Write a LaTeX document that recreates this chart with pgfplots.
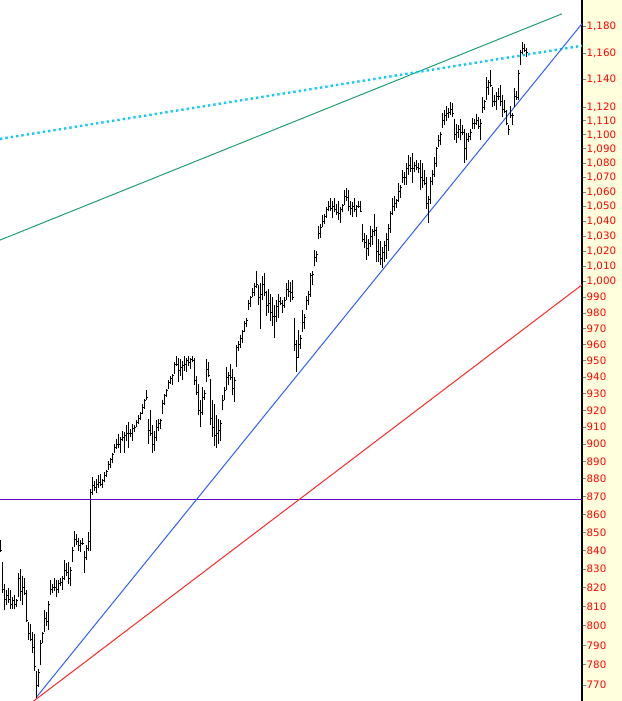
\documentclass[border=0pt]{standalone}
\usepackage{pgfplots}
\pgfplotsset{compat=1.18}
\usepackage{pgfplotstable}
\usepackage{fontspec}
\setmainfont{DejaVu Sans}
\definecolor{bgy}{RGB}{255,255,221}
\definecolor{hline}{RGB}{102,0,204}
\definecolor{bline}{RGB}{45,95,255}
\definecolor{rline}{RGB}{255,40,40}
\definecolor{gline}{RGB}{30,160,110}
\definecolor{cline}{RGB}{20,200,255}
\pgfdeclareplotmark{clt}{\pgfpathmoveto{\pgfpointorigin}\pgfpathlineto{\pgfpoint{1.5bp}{0pt}}\pgfusepathqstroke}
\pgfdeclareplotmark{opt}{\pgfpathmoveto{\pgfpointorigin}\pgfpathlineto{\pgfpoint{-1.5bp}{0pt}}\pgfusepathqstroke}
\pgfplotstableread{
x h l c
0 846 839 840
2 834 817 819
4 822 808 814
6 819 811 816
8 820 812 814
10 819 809 811
12 815 809 813
14 816 809 811
16 814 810 813
18 828 815 825
20 830 813 818
22 826 811 820
24 825 816 817
26 819 802 803
28 802 793 796
30 801 792 793
32 797 786 789
34 796 777 779
36 777 763.5 770
38 778 769 776
40 793 780 791
42 797 791 796
44 808 797 804
46 807 800 802
48 813 798 811
50 824 816 819
52 822 817 820
54 825 818 820
56 824 815 819
58 824 817 822
60 825 821 823
62 826 819 825
64 835 824 829
66 833 826 828
68 834 822 825
70 831 821 829
72 842 834 840
74 851 842 846
76 849 843 845
78 847 840 843
80 846 839 844
82 847 843 844
84 840 828 836
86 843 835 841
88 850 840 845
90 874 840 872
92 881 871 876
94 879 873 875
96 880 872 877
98 882 875 878
100 883 876 877
102 880 875 879
104 884 878 882
106 885 881 884
108 890 885 888
110 892 886 891
112 895 889 894
114 900 895 898
116 903 897 900
118 906 898 900
120 904 895 903
122 908 902 904
124 907 895 905
126 911 902 906
128 913 898 906
130 909 904 906
132 912 902 909
134 911 907 910
136 914 910 913
138 917 912 915
140 919 914 918
142 924 918 922
144 927 921 926
146 932 926 928
148 915 900 908
150 920 905 906
152 911 895 900
154 908 896 904
156 914 902 910
158 915 908 912
160 915 909 914
162 926 918 924
164 930 923 929
166 933 928 932
168 938 933 937
170 941 936 939
172 942 935 941
174 949 942 948
176 953 947 948
178 952 937 944
180 951 941 946
182 950 938 947
184 953 944 948
186 952 943 950
188 953 947 949
190 952 945 951
192 953 949 950
194 952 935 938
196 941 929 931
198 936 917 920
200 926 910 919
202 934 917 928
204 932 926 930
206 951 937 945
208 949 940 941
210 939 911 915
212 926 904 910
214 924 899 905
216 917 898 906
218 915 900 908
220 914 902 912
222 929 920 926
224 934 926 932
226 946 932 940
228 943 935 941
230 948 938 940
232 945 929 933
234 940 925 938
236 960 946 958
238 962 956 960
240 966 958 964
242 969 961 968
244 975 968 973
246 977 971 975
248 988 982 986
250 991 984 990
252 996 990 993
254 999 991 997
256 1007 996 998
258 998 985 990
260 999 970 992
262 1004 988 998
264 1006 991 993
266 994 978 985
268 995 980 986
270 992 975 980
272 990 972 978
274 985 964 978
276 988 974 984
278 992 977 987
280 990 985 986
282 988 980 985
284 990 983 988
286 999 988 995
288 1001 990 994
290 1000 987 993
292 1001 988 990
294 977 956 960
296 963 943 952
298 969 952 960
300 966 957 964
302 982 968 974
304 979 970 977
306 991 982 988
308 994 985 992
310 1006 990 1004
312 1007 998 1005
314 1021 1010 1016
316 1020 1013 1018
318 1037 1028 1032
320 1038 1029 1036
322 1044 1036 1040
324 1045 1038 1043
326 1050 1042 1048
328 1054 1047 1050
330 1056 1047 1049
332 1054 1042 1050
334 1056 1046 1048
336 1052 1044 1046
338 1054 1041 1045
340 1050 1039 1048
342 1052 1046 1051
344 1061 1051 1057
346 1063 1054 1056
348 1061 1047 1050
350 1054 1044 1049
352 1053 1043 1050
354 1056 1046 1048
356 1051 1043 1050
358 1054 1049 1050
360 1054 1046 1047
362 1038 1026 1028
364 1032 1022 1026
366 1031 1014 1022
368 1028 1017 1025
370 1037 1023 1030
372 1035 1024 1033
374 1045 1030 1034
376 1036 1013 1020
378 1028 1013 1018
380 1027 1011 1015
382 1023 1009 1019
384 1027 1013 1024
386 1032 1015 1028
388 1038 1020 1035
390 1047 1032 1045
392 1056 1044 1050
394 1057 1047 1052
396 1055 1049 1054
398 1066 1053 1060
400 1065 1056 1063
402 1075 1066 1070
404 1074 1065 1070
406 1080 1065 1076
408 1086 1072 1078
410 1084 1074 1076
412 1087 1066 1076
414 1081 1074 1078
416 1082 1075 1077
418 1080 1073 1076
420 1082 1061 1070
422 1080 1063 1068
424 1075 1065 1066
426 1070 1048 1052
428 1057 1039 1055
430 1070 1052 1067
432 1075 1065 1072
434 1084 1070 1080
436 1091 1077 1090
438 1100 1091 1096
440 1102 1093 1100
442 1116 1105 1110
444 1118 1107 1114
446 1121 1110 1115
448 1119 1112 1116
450 1124 1114 1118
452 1123 1113 1115
454 1111 1096 1100
456 1108 1094 1102
458 1107 1098 1104
460 1111 1096 1102
462 1107 1100 1102
464 1104 1080 1090
466 1101 1082 1097
468 1101 1095 1099
470 1104 1096 1102
472 1112 1104 1108
474 1111 1104 1108
476 1115 1107 1110
478 1113 1104 1106
480 1111 1096 1108
482 1127 1116 1120
484 1125 1118 1124
486 1142 1125 1134
488 1140 1129 1138
490 1147 1135 1136
492 1135 1120 1124
494 1129 1121 1124
496 1131 1118 1128
498 1134 1125 1128
500 1136 1121 1124
502 1129 1113 1118
504 1125 1116 1117
506 1118 1107 1108
508 1107 1100 1104
510 1121 1112 1114
512 1116 1107 1114
514 1134 1120 1128
516 1132 1125 1127
518 1147 1125 1145
520 1162 1151 1160
522 1168 1159 1163
524 1167 1161 1162
526 1164 1157 1160
}\bars
\begin{document}
\begin{tikzpicture}
\useasboundingbox (0,0) rectangle (622bp,701bp);
\fill[bgy] (582bp,0) rectangle (622bp,701bp);
\begin{axis}[
  at={(0,0)}, anchor=south west,
  width=582bp, height=701bp, scale only axis,
  xmin=0, xmax=582,
  ymode=log, ymin=762.0, ymax=1200.6,
  axis x line=none,
  axis y line*=right,
  axis line style={black, line width=1.5bp},
  tick align=outside,
  major tick length=4bp,
  y tick style={gray, line width=0.8bp},
  minor ytick={},
  ytick={770,780,790,800,810,820,830,840,850,860,870,880,890,900,910,920,930,940,950,960,970,980,990,1000,1010,1020,1030,1040,1050,1060,1070,1080,1090,1100,1110,1120,1140,1160,1180},
  yticklabels={770,780,790,800,810,820,830,840,850,860,870,880,890,900,910,920,930,940,950,960,970,980,990,{1,000},{1,010},{1,020},{1,030},{1,040},{1,050},{1,060},{1,070},{1,080},{1,090},{1,100},{1,110},{1,120},{1,140},{1,160},{1,180}},
  yticklabel style={text=red, font=\fontsize{10.3}{12}\selectfont, inner sep=0.5bp},
]
\addplot[hline, line width=1bp] coordinates {(0,868.3) (582,868.3)};
\addplot[gline, line width=1bp] coordinates {(0,1027.4) (562,1189.8)};
\addplot[cline, line width=2.4bp, dash pattern=on 2.4bp off 3bp] coordinates {(0,1097.1) (582,1165.4)};
\addplot[rline, line width=1bp] coordinates {(33,761.7) (582,998)};
\addplot[bline, line width=1bp] coordinates {(36,763.6) (600,1199.4)};
\addplot[draw=none, mark=none, forget plot, error bars/.cd, y dir=plus, y explicit, error mark=none,
  error bar style={draw=black, solid, line width=1bp}]
  table[x=x, y=l, y error plus expr=\thisrow{h}-\thisrow{l}] {\bars};
\addplot[only marks, mark=clt, mark options={black, solid, line width=0.9bp}, forget plot]
  table[x=x, y=c] {\bars};
\addplot[only marks, mark=opt, mark options={black, solid, line width=0.9bp}, forget plot,
  skip coords between index={263}{264}]
  table[x expr=\thisrow{x}+2, y=c] {\bars};
\end{axis}
\end{tikzpicture}
\end{document}
